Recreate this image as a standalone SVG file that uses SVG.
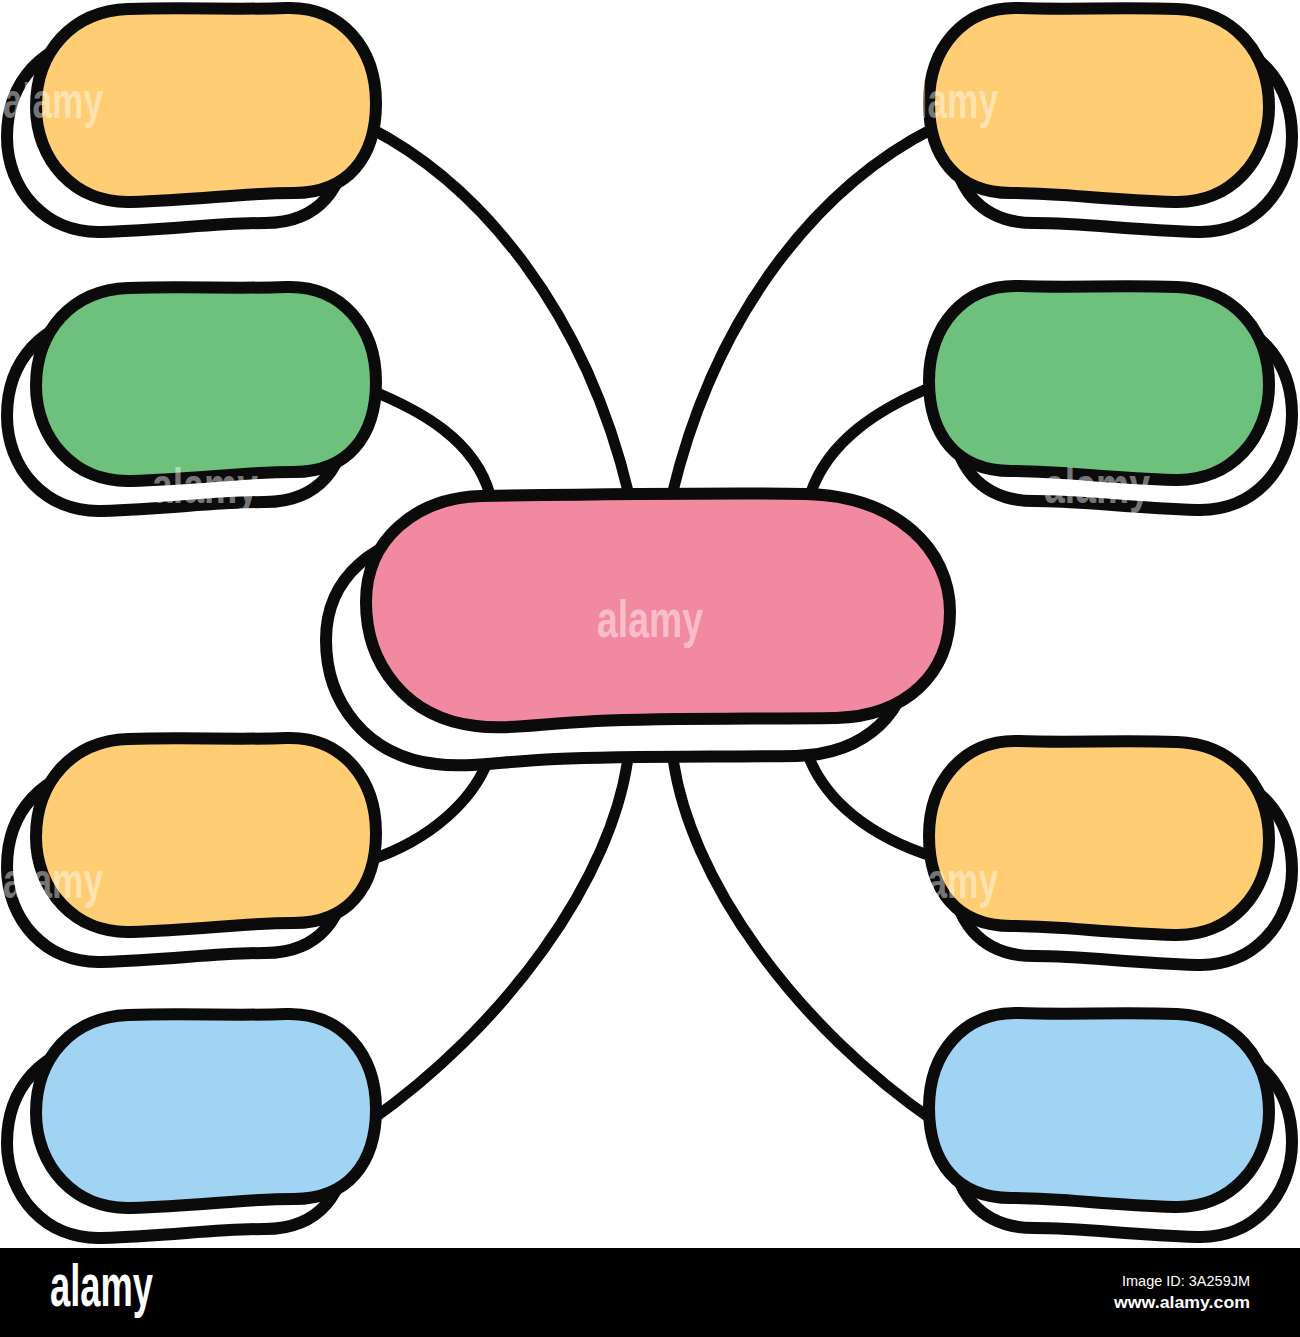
<svg xmlns="http://www.w3.org/2000/svg" xmlns:xlink="http://www.w3.org/1999/xlink" width="1300" height="1337" viewBox="0 0 1300 1337">
<style>
.ln{fill:none;stroke:#0b0b0b;stroke-width:11;stroke-linecap:round}
.sh{fill:#ffffff;stroke:#0b0b0b;stroke-width:12;stroke-linejoin:round}
.fr{stroke:#0b0b0b;stroke-width:12;stroke-linejoin:round}
.y{fill:#FECD74}.g{fill:#6EC17D}.b{fill:#A0D4F2}.p{fill:#F18AA0}
.wm{font-family:"Liberation Sans",Arial,sans-serif;font-weight:bold;fill:#ffffff;fill-opacity:0.45}
.bar{font-family:"Liberation Sans",Arial,sans-serif;fill:#ffffff}
</style>
<defs>
<path id="blob" d="M 92 2 C 150 0 200 3 250 1 C 306 -1 340 42 340 96 C 340 150 312 186 258 186 C 205 186 165 193 95 195 C 38 197 0 152 0 100 C 0 45 36 4 92 2 Z"/>
<path id="cblob" d="M 115 2 C 250 0 380 -1 440 0 C 530 2 584 55 584 118 C 584 180 540 222 470 224 C 380 225 300 224 230 227 C 170 230 140 236 110 232 C 40 224 0 170 0 108 C 0 45 50 4 115 2 Z"/>
</defs>
<rect width="1300" height="1337" fill="#ffffff"/>
<g id="connectors">
<path class="ln" d="M 370 128 C 480 185 585 310 629 495"/>
<path class="ln" d="M 370 390 C 420 410 475 440 490 495"/>
<path class="ln" d="M 490 755 C 475 800 430 840 370 860"/>
<path class="ln" d="M 629 750 C 615 880 500 1030 370 1121"/>
<path class="ln" d="M 934 128 C 821 185 716 310 672 495"/>
<path class="ln" d="M 934 386 C 880 408 828 440 810 495"/>
<path class="ln" d="M 808 755 C 825 800 868 836 934 857"/>
<path class="ln" d="M 672 750 C 686 880 801 1030 934 1121"/>
</g>
<g id="node-left-1" transform="translate(36,7)">
<use xlink:href="#blob" href="#blob" class="sh" transform="translate(-29,30)"/>
<use xlink:href="#blob" href="#blob" class="fr y"/>
</g>
<g id="node-left-2" transform="translate(36,286)">
<use xlink:href="#blob" href="#blob" class="sh" transform="translate(-29,30)"/>
<use xlink:href="#blob" href="#blob" class="fr g"/>
</g>
<g id="node-left-3" transform="translate(36,737)">
<use xlink:href="#blob" href="#blob" class="sh" transform="translate(-29,30)"/>
<use xlink:href="#blob" href="#blob" class="fr y"/>
</g>
<g id="node-left-4" transform="translate(36,1013)">
<use xlink:href="#blob" href="#blob" class="sh" transform="translate(-29,30)"/>
<use xlink:href="#blob" href="#blob" class="fr b"/>
</g>
<g id="node-right-1" transform="translate(1269,7) scale(-1,1)">
<use xlink:href="#blob" href="#blob" class="sh" transform="translate(-23,30)"/>
<use xlink:href="#blob" href="#blob" class="fr y"/>
</g>
<g id="node-right-2" transform="translate(1269,285) scale(-1,1)">
<use xlink:href="#blob" href="#blob" class="sh" transform="translate(-23,30)"/>
<use xlink:href="#blob" href="#blob" class="fr g"/>
</g>
<g id="node-right-3" transform="translate(1269,740) scale(-1,1)">
<use xlink:href="#blob" href="#blob" class="sh" transform="translate(-23,30)"/>
<use xlink:href="#blob" href="#blob" class="fr y"/>
</g>
<g id="node-right-4" transform="translate(1269,1012) scale(-1,1)">
<use xlink:href="#blob" href="#blob" class="sh" transform="translate(-23,30)"/>
<use xlink:href="#blob" href="#blob" class="fr b"/>
</g>
<g id="node-center" transform="translate(366,494)">
<use xlink:href="#cblob" href="#cblob" class="sh" transform="translate(-40,38)"/>
<use xlink:href="#cblob" href="#cblob" class="fr p"/>
</g>
<g id="watermarks">
<text class="wm" x="3" y="118" font-size="50" textLength="100" lengthAdjust="spacingAndGlyphs">alamy</text>
<text class="wm" x="898" y="118" font-size="50" textLength="100" lengthAdjust="spacingAndGlyphs">alamy</text>
<text class="wm" x="152" y="503" font-size="50" textLength="106" lengthAdjust="spacingAndGlyphs">alamy</text>
<text class="wm" x="1044" y="503" font-size="50" textLength="106" lengthAdjust="spacingAndGlyphs">alamy</text>
<text class="wm" x="3" y="898" font-size="50" textLength="100" lengthAdjust="spacingAndGlyphs">alamy</text>
<text class="wm" x="898" y="898" font-size="50" textLength="100" lengthAdjust="spacingAndGlyphs">alamy</text>
<text class="wm" x="597" y="637" font-size="52" textLength="106" lengthAdjust="spacingAndGlyphs">alamy</text>
</g>
<g id="footer">
<rect x="0" y="1248" width="1300" height="89" fill="#000000"/>
<text class="bar" x="50" y="1306" font-size="60" font-weight="bold" textLength="103" lengthAdjust="spacingAndGlyphs">alamy</text>
<text class="bar" x="1250" y="1286" font-size="14" text-anchor="end" textLength="128" lengthAdjust="spacingAndGlyphs">Image ID: 3A259JM</text>
<text class="bar" x="1250" y="1308" font-size="17" font-weight="bold" text-anchor="end" textLength="136" lengthAdjust="spacingAndGlyphs">www.alamy.com</text>
</g>
</svg>
